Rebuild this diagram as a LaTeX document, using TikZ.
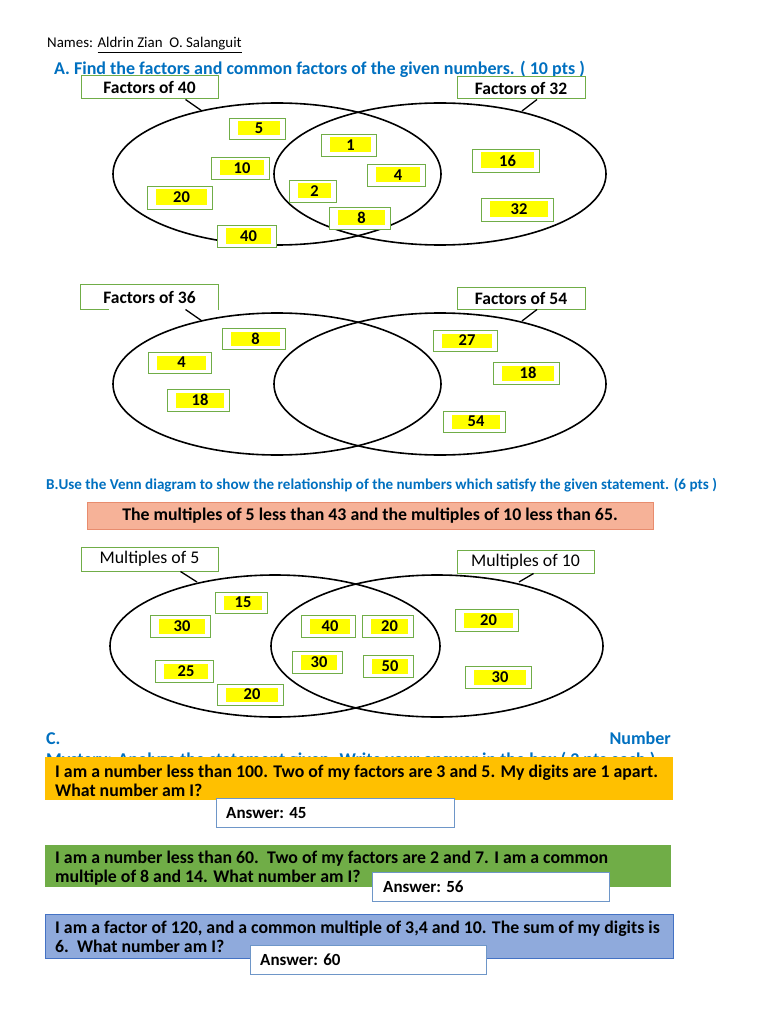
\documentclass[tikz,border=0pt]{standalone}
\usepackage{fontspec}
\setmainfont{Carlito}
\definecolor{vgreen}{RGB}{112,173,71}
\definecolor{hblue}{RGB}{0,112,192}
\definecolor{salmon}{RGB}{246,178,152}
\definecolor{salmonb}{RGB}{232,140,110}
\definecolor{gold}{RGB}{255,192,0}
\definecolor{lav}{RGB}{143,170,220}
\definecolor{lavb}{RGB}{68,114,196}
\definecolor{ansb}{RGB}{110,150,200}
\definecolor{hlyellow}{RGB}{255,255,0}
\newcommand\nb[6]{%
  \node[nbox, minimum width=#4, minimum height=#5] (#1) at (#2,#3) {};
  \node[hl, minimum width=#4-14, minimum height=#5-7, xshift=2pt] at (#1.center) {#6};}
\begin{document}
\begin{tikzpicture}[x=1pt,y=-1pt,
  lbl/.style={draw=vgreen, line width=1pt, fill=white, inner sep=0, font=\bfseries\fontsize{17.5}{20}\selectfont},
  nbox/.style={draw=vgreen, line width=0.9pt, fill=white, inner sep=0},
  hl/.style={fill=hlyellow, inner sep=0, font=\bfseries\fontsize{16.5}{20}\selectfont},
  venn/.style={draw=black, line width=1.6pt},
  conn/.style={draw=black, line width=1.3pt},
  head/.style={anchor=base west, inner sep=0, text=hblue, font=\bfseries\fontsize{18}{20}\selectfont},
  band/.style={inner sep=0, line width=0.6pt},
  btxt/.style={anchor=base west, inner sep=0, font=\bfseries\fontsize{17.8}{20}\selectfont},
  ans/.style={draw=ansb, line width=0.9pt, fill=white, inner sep=0},
  anstxt/.style={anchor=base west, inner sep=0, font=\bfseries\fontsize{17}{20}\selectfont}]
\useasboundingbox (0,0) rectangle (768,1024);
\fill[white] (0,0) rectangle (768,1024);

% ---------- header ----------
\node[anchor=base west, inner sep=0, font=\fontsize{14.9}{17}\selectfont] (names) at (47,48)
  {Names: \underline{Aldrin Zian\ \ O. Salanguit}};
\node[head] (headA) at (54,75) {A. Find the factors and common factors of the given numbers. ( 10 pts )};

% ---------- Venn 1 ----------
\draw[venn] (277,174) ellipse [x radius=164, y radius=71];
\draw[venn] (440,174) ellipse [x radius=166, y radius=71];
\node[lbl, minimum width=137, minimum height=23] (f40) at (149.5,87.5) {Factors of 40};
\node[lbl, minimum width=128, minimum height=22] (f32) at (521,88) {Factors of 32};
\coordinate (c40) at (202,111);
\coordinate (c32) at (522,111);
\draw[conn] ([xshift=36pt]f40.south) -- (c40);
\draw[conn] ([xshift=16pt]f32.south) -- (c32);
\nb{a5}{257}{128.5}{56}{21}{5}
\nb{a1}{348.5}{145}{55}{22}{1}
\nb{a10}{240}{168}{58}{22}{10}
\nb{a4}{396}{175}{58}{22}{4}
\nb{a16}{505.5}{160.5}{67}{23}{16}
\nb{a2}{312.5}{191}{47}{22}{2}
\nb{a20}{179.5}{197.5}{65}{23}{20}
\nb{a8}{359.5}{218}{61}{22}{8}
\nb{a32}{517}{209.5}{72}{23}{32}
\nb{a40}{246.5}{236}{59}{22}{40}

% ---------- Venn 2 ----------
\draw[venn] (277,384) ellipse [x radius=164, y radius=71];
\draw[venn] (440,384) ellipse [x radius=166, y radius=71];
\node[lbl, draw=none, minimum width=137, minimum height=24] (f36) at (149.5,297) {Factors of 36};
\draw[vgreen, line width=1pt] ([xshift=28pt]f36.south west) -- (f36.south west) -- (f36.north west)
  -- (f36.north east) -- (f36.south east);
\node[lbl, minimum width=128, minimum height=22] (f54) at (521,298) {Factors of 54};
\coordinate (c36) at (202,321);
\coordinate (c54) at (522,321);
\draw[conn] ([xshift=36pt]f36.south) -- (c36);
\draw[conn] ([xshift=16pt]f54.south) -- (c54);
\nb{b8}{253.5}{338.5}{63}{21}{8}
\nb{b4}{179.5}{362.5}{63}{21}{4}
\nb{b18a}{198}{400}{62}{22}{18}
\nb{b27}{465}{340.5}{64}{21}{27}
\nb{b18b}{526}{373}{66}{22}{18}
\nb{b54}{474}{421.5}{62}{21}{54}

% ---------- B ----------
\node[head, font=\bfseries\fontsize{15.1}{17}\selectfont] (headB) at (46,489)
  {B.Use the Venn diagram to show the relationship of the numbers which satisfy the given statement. (6 pts )};
\node[band, draw=salmonb, fill=salmon, minimum width=566, minimum height=27,
  font=\bfseries\fontsize{17.8}{20}\selectfont] (stmt) at (370,515.5)
  {The multiples of 5 less than 43 and the multiples of 10 less than 65.};

% ---------- Venn 3 ----------
\draw[venn] (275,646) ellipse [x radius=165, y radius=71];
\draw[venn] (437,646) ellipse [x radius=166, y radius=71];
\node[lbl, minimum width=137, minimum height=24, font=\fontsize{17.8}{20}\selectfont] (m5) at (149.5,559) {Multiples of 5};
\node[lbl, minimum width=137, minimum height=23, font=\fontsize{17.8}{20}\selectfont] (m10) at (525.5,561.5) {Multiples of 10};
\coordinate (c5) at (197,582);
\coordinate (c10) at (519,582);
\draw[conn] ([xshift=31pt]m5.south) -- (c5);
\draw[conn] ([xshift=8pt]m10.south) -- (c10);
\nb{m15}{241}{602.5}{52}{21}{15}
\nb{m30a}{180}{626}{60}{22}{30}
\nb{m40}{328}{626}{54}{22}{40}
\nb{m20a}{387.5}{626}{51}{22}{20}
\nb{m20b}{486.5}{620}{63}{22}{20}
\nb{m25}{184}{671}{58}{22}{25}
\nb{m30b}{317}{662}{50}{22}{30}
\nb{m50}{388}{666}{50}{22}{50}
\nb{m20c}{250}{694.5}{66}{21}{20}
\nb{m30c}{498}{677}{66}{22}{30}

% ---------- C ----------
\node[head] (headC) at (46,744) {C.};
\node[anchor=base east, inner sep=0, text=hblue, font=\bfseries\fontsize{18}{20}\selectfont] (headC2) at (671,744) {Number};
\node[head] (headC3) at (46,765) {Mystery: Analyze the statement given. Write your answer in the box ( 2 pts each )};

\node[band, fill=gold, minimum width=628, minimum height=43] (q1) at (359,778.5) {};
\node[btxt] (q1a) at (55,777) {I am a number less than 100. Two of my factors are 3 and 5. My digits are 1 apart.};
\node[btxt] (q1b) at (55,796) {What number am I?};
\node[ans, minimum width=238, minimum height=29] (a1) at (335,812.5) {};
\node[anstxt] (a1t) at (226,818) {Answer: 45};

\node[band, fill=vgreen, minimum width=626, minimum height=42] (q2) at (358,866) {};
\node[btxt] (q2a) at (55,863) {I am a number less than 60.\ \ Two of my factors are 2 and 7. I am a common};
\node[btxt] (q2b) at (55,882) {multiple of 8 and 14. What number am I?};
\node[ans, minimum width=237, minimum height=29] (a2) at (490.5,886.5) {};
\node[anstxt] (a2t) at (383,892) {Answer: 56};

\node[band, draw=lavb, fill=lav, minimum width=628, minimum height=44] (q3) at (359,936) {};
\node[btxt] (q3a) at (55,933) {I am a factor of 120, and a common multiple of 3,4 and 10. The sum of my digits is};
\node[btxt] (q3b) at (55,952) {6.\ \ What number am I?};
\node[ans, minimum width=236, minimum height=29] (a3) at (368,959.5) {};
\node[anstxt] (a3t) at (260,965) {Answer: 60};
\end{tikzpicture}
\end{document}
